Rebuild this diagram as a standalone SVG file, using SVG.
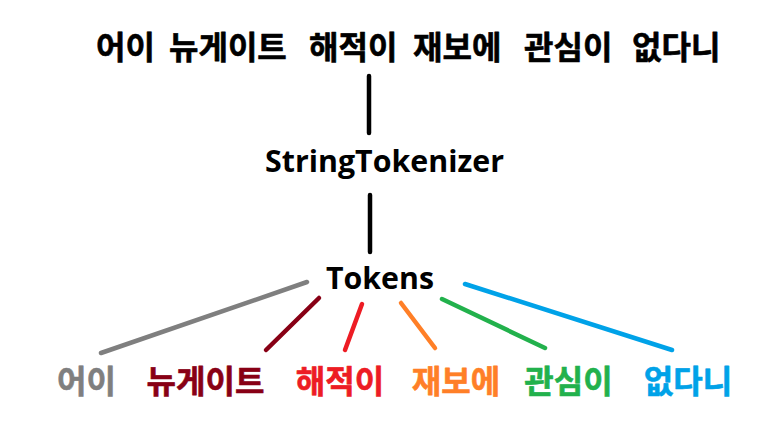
<svg xmlns="http://www.w3.org/2000/svg" width="774" height="427" viewBox="0 0 774 427">
<style>
.ko{font-family:"Noto Sans CJK KR","Noto Sans",sans-serif;font-weight:bold;font-size:32px;stroke-width:0.6;stroke-linejoin:round}
.en{font-family:"Open Sans","Noto Sans",sans-serif;font-weight:bold;font-size:30px;fill:#000}
.ln{stroke-width:4.5;stroke-linecap:round;fill:none}
</style>
<rect width="774" height="427" fill="#fff"/>
<g id="connectors">
<line class="ln" x1="369" y1="76" x2="369" y2="133" stroke="#000"/>
<line class="ln" x1="370" y1="195" x2="370" y2="252" stroke="#000"/>
<line class="ln" x1="307" y1="282" x2="101" y2="353" stroke="#7f7f7f"/>
<line class="ln" x1="319" y1="298" x2="266" y2="350" stroke="#880015"/>
<line class="ln" x1="362" y1="304" x2="345" y2="350" stroke="#ed1c24"/>
<line class="ln" x1="401" y1="303" x2="435" y2="348" stroke="#ff7f27"/>
<line class="ln" x1="442" y1="299" x2="545" y2="348" stroke="#22b14c"/>
<line class="ln" x1="465" y1="284" x2="672" y2="350" stroke="#00a2e8"/>
</g>
<g id="sentence">
<text class="ko" y="59" fill="#000" stroke="#000"><tspan x="96">어이 </tspan><tspan x="169">뉴게이트 </tspan><tspan x="309">해적이 </tspan><tspan x="413">재보에 </tspan><tspan x="524">관심이 </tspan><tspan x="632">없다니</tspan></text>
</g>
<g id="tokenizer">
<text class="en" x="265" y="172" textLength="239" lengthAdjust="spacingAndGlyphs">StringTokenizer</text>
</g>
<g id="tokens">
<text class="en" x="326" y="289" textLength="108" lengthAdjust="spacingAndGlyphs">Tokens</text>
</g>
<g id="token1"><text class="ko" x="86.5" y="393" text-anchor="middle" fill="#7f7f7f" stroke="#7f7f7f">어이</text></g>
<g id="token2"><text class="ko" x="205.5" y="393" text-anchor="middle" fill="#880015" stroke="#880015">뉴게이트</text></g>
<g id="token3"><text class="ko" x="340" y="393" text-anchor="middle" fill="#ed1c24" stroke="#ed1c24">해적이</text></g>
<g id="token4"><text class="ko" x="456" y="393" text-anchor="middle" fill="#ff7f27" stroke="#ff7f27">재보에</text></g>
<g id="token5"><text class="ko" x="568.5" y="393" text-anchor="middle" fill="#22b14c" stroke="#22b14c">관심이</text></g>
<g id="token6"><text class="ko" x="688" y="393" text-anchor="middle" fill="#00a2e8" stroke="#00a2e8">없다니</text></g>
</svg>
